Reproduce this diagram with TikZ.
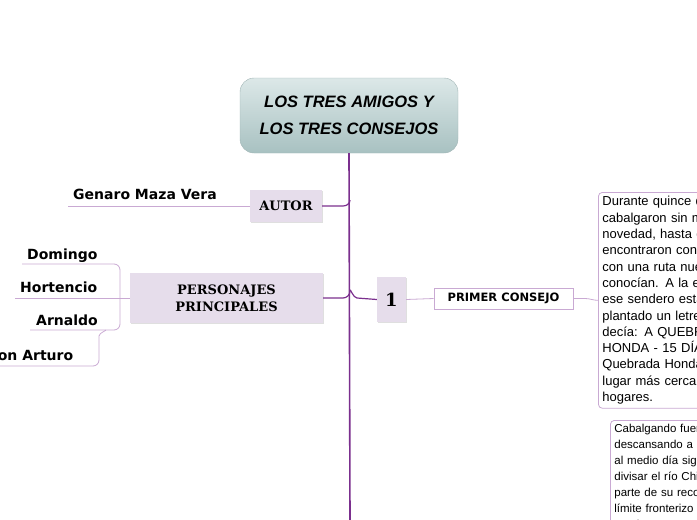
\documentclass[tikz,border=0pt]{standalone}
\usepackage{fontspec}
\setmainfont{Liberation Sans}
\newfontfamily\djsans{DejaVu Sans}
\newfontfamily\lserif{DejaVu Serif}
\usetikzlibrary{shadows}
\definecolor{pur}{HTML}{7B2F8E}
\definecolor{lpur}{HTML}{C9A9D3}
\definecolor{boxf}{HTML}{E6DDEB}
\definecolor{ttop}{HTML}{DCE8E8}
\definecolor{tbot}{HTML}{A8C1C1}
\begin{document}
\begin{tikzpicture}[x=1pt,y=-1pt,
  line/.style={lpur,line width=0.8pt},
  trunk/.style={pur,line width=1.6pt},
  sub/.style={draw=none,fill=boxf,minimum height=32pt,font=\lserif\bfseries\fontsize{13}{14}\selectfont,align=center,drop shadow={opacity=0.25,shadow xshift=1pt,shadow yshift=-1pt}},
  lab/.style={font=\djsans\bfseries\fontsize{14}{15}\selectfont,anchor=base west,inner sep=0},
  txt/.style={draw=lpur,rounded corners=4pt,line width=0.8pt,align=left,anchor=north west,inner sep=4pt}]
\useasboundingbox (0,0) rectangle (697,520);
\clip (0,0) rectangle (697,520);
% title
\node[rounded corners=14pt,draw=tbot!80!gray,top color=ttop,bottom color=tbot,minimum width=218pt,minimum height=75pt,align=center,font=\bfseries\itshape\fontsize{16.5}{27}\selectfont] (title) at (349,115.5) {LOS TRES AMIGOS Y\\LOS TRES CONSEJOS};
\coordinate (tb) at (350,520);
\draw[trunk] (title.south) -- (tb);
% autor
\node[sub,minimum width=72pt] (autor) at (286,206) {AUTOR};
\draw[trunk,line width=1.2pt] (autor.east) -- (343,206) to[out=0,in=-90] (350,200);
\node[lab] (genaro) at (73,199.5) {Genaro Maza Vera};
\coordinate (g0) at (68,206);
\draw[line] (g0) -- (autor.west);
% personajes
\node[sub,minimum width=193pt,minimum height=50pt,font=\lserif\bfseries\fontsize{13}{17}\selectfont] (pers) at (226.5,298) {PERSONAJES\\PRINCIPALES};
\draw[trunk,line width=1.2pt] (pers.east) -- (343,298) to[out=0,in=-90] (350,291);
\coordinate (p0) at (120,298);
\draw[line] (pers.west) -- (p0);
\node[lab] (dom) at (27,259) {Domingo};
\node[lab] (hor) at (20,292) {Hortencio};
\node[lab] (arn) at (36,325) {Arnaldo};
\node[lab] (art) at (-14,360) {Don Arturo};
\draw[line] (22,264) -- (114,264) to[out=0,in=90] (120,270) -- (120,324) to[out=-90,in=0] (114,330) -- (30,330);
\draw[line] (15,298) -- (p0);
\draw[line] (0,366) -- (93,366) to[out=0,in=-90] (99,360) -- (99,336) to[out=90,in=0] (105,330);
% 1
\node[sub,minimum width=29pt,minimum height=45pt,font=\lserif\bfseries\fontsize{18}{18}\selectfont] (one) at (391.5,299.5) {1};
\draw[trunk,line width=1.2pt] (350,291) to[out=90,in=180] (357,298) -- (one.west);
\node[draw=lpur,line width=0.8pt,minimum width=139pt,minimum height=21pt,font=\djsans\bfseries\fontsize{11.5}{13}\selectfont] (pc) at (503.5,298.5) {PRIMER CONSEJO};
\draw[line] (one.east) -- (pc.west);
\node[txt,font=\fontsize{13}{16.3}\selectfont,text width=160pt] (t1) at (598,192) {Durante quince días\\cabalgaron sin mayor\\novedad, hasta que se\\encontraron con un cruce\\con una ruta nueva que no\\conocían. A la entrada de\\ese sendero estaba\\plantado un letrero que\\decía: A QUEBRADA\\HONDA - 15 DÍAS. Y la\\Quebrada Honda era el\\lugar más cercano a sus\\hogares.};
\draw[line] (pc.east) -- (585,298.5) to[out=0,in=180] (t1.west);
\node[txt,font=\fontsize{11.5}{16}\selectfont,text width=150pt] (t2) at (610,420) {Cabalgando fueron\\descansando a ratos y\\al medio día siguiente\\divisar el río Chira\\parte de su recorrido\\límite fronterizo\\Tumbes};
\end{tikzpicture}
\end{document}
